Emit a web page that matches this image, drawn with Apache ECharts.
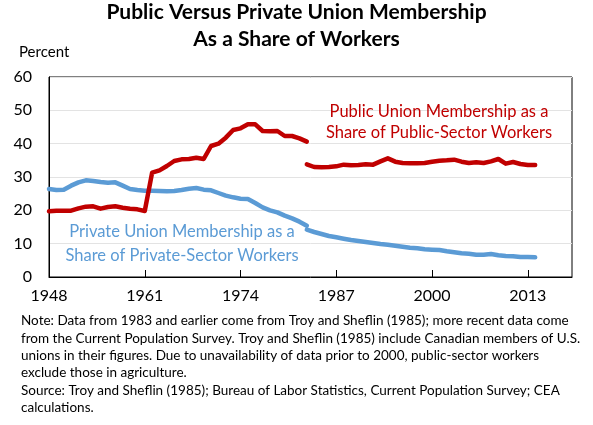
<!DOCTYPE html>
<html><head><meta charset="utf-8">
<script src="https://cdn.jsdelivr.net/npm/echarts@6/dist/echarts.min.js"></script>
<style>html,body{margin:0;padding:0;background:#fff}#c{width:593px;height:425px}</style>
</head><body><div id="c"></div>
<script>
// Axis categories (years) and tick labels
const firstYear = 1948, lastYear = 2019;
const years = [];
for (let y = firstYear; y <= lastYear; y++) years.push(String(y));
const tickLabels = ['1948', '1961', '1974', '1987', '2000', '2013'];
const yTicks = [0, 10, 20, 30, 40, 50, 60];

// Troy and Sheflin (1948-1983)
const troyYears = ['1948','1949','1950','1951','1952','1953','1954','1955','1956','1957','1958','1959','1960','1961','1962','1963','1964','1965','1966','1967','1968','1969','1970','1971','1972','1973','1974','1975','1976','1977','1978','1979','1980','1981','1982','1983'];
const publicTroy = [19.7,19.9,19.9,19.9,20.6,21.1,21.2,20.5,21.0,21.2,20.8,20.5,20.3,19.8,31.3,32.0,33.3,34.8,35.3,35.4,35.8,35.4,39.3,40.0,41.8,44.1,44.6,45.8,45.8,43.8,43.7,43.8,42.3,42.3,41.6,40.6];
const privateTroy = [26.4,26.1,26.2,27.4,28.4,29.0,28.8,28.5,28.3,28.4,27.4,26.4,26.1,25.9,25.9,25.8,25.7,25.8,26.1,26.5,26.7,26.2,26.0,25.2,24.4,23.9,23.5,23.4,22.2,20.9,20.0,19.4,18.4,17.6,16.6,15.4];

// Current Population Survey (1983-2014)
const cpsYears = ['1983','1984','1985','1986','1987','1988','1989','1990','1991','1992','1993','1994','1995','1996','1997','1998','1999','2000','2001','2002','2003','2004','2005','2006','2007','2008','2009','2010','2011','2012','2013','2014'];
const publicCPS = [33.8,33.0,32.9,33.0,33.2,33.7,33.5,33.6,33.8,33.7,34.7,35.6,34.6,34.2,34.1,34.1,34.2,34.6,34.9,35.0,35.2,34.6,34.2,34.4,34.2,34.7,35.4,34.0,34.5,33.9,33.6,33.6];
const privateCPS = [14.2,13.5,12.9,12.3,11.9,11.5,11.1,10.8,10.5,10.2,9.9,9.7,9.4,9.1,8.8,8.6,8.3,8.2,8.1,7.7,7.4,7.1,7.0,6.7,6.7,6.9,6.5,6.3,6.2,6.0,6.0,5.9];

const titleLines = ['Public Versus Private Union Membership', 'As a Share of Workers'];
const yAxisName = 'Percent';
const publicLabel = ['Public Union Membership as a', 'Share of Public-Sector Workers'];
const privateLabel = ['Private Union Membership as a', 'Share of Private-Sector Workers'];
const noteLines = [
  'Note: Data from 1983 and earlier come from Troy and Sheflin (1985); more recent data come',
  'from the Current Population Survey. Troy and Sheflin (1985) include Canadian members of U.S.',
  'unions in their figures. Due to unavailability of data prior to 2000, public-sector workers',
  'exclude those in agriculture.',
  'Source: Troy and Sheflin (1985); Bureau of Labor Statistics, Current Population Survey; CEA',
  'calculations.'
];

const RED = '#c00000', BLUE = '#5b9bd5';
const FONT = 'Lato, "Open Sans", sans-serif';
const pair = (xs, vs) => xs.map((x, i) => [x, vs[i]]);
const showTick = (idx, val) => tickLabels.indexOf(val) >= 0;

function lineSeries(name, xs, vs, color) {
  return { name, type: 'line', data: pair(xs, vs), symbol: 'none', silent: true, z: 3,
    lineStyle: { color, width: 4.5, cap: 'round', join: 'round' }, animation: false };
}

const graphics = [];
titleLines.forEach((t, i) => graphics.push({ type: 'text', left: 'center', top: 2 + i * 27, z: 100,
  style: { text: t, font: 'bold 21px ' + FONT, fill: '#000' } }));
graphics.push({ type: 'text', x: 19, y: 52, z: 100, style: { text: yAxisName, font: '15px ' + FONT, fill: '#000', verticalAlign: 'middle' } });
publicLabel.forEach((t, i) => graphics.push({ type: 'text', x: 439, y: 112 + i * 21, z: 100,
  style: { text: t, font: '16.5px ' + FONT, fill: RED, align: 'center', verticalAlign: 'middle',
    backgroundColor: 'rgba(255,255,255,0)' } }));
privateLabel.forEach((t, i) => graphics.push({ type: 'text', x: 182, y: 232 + i * 23.5, z: 100,
  style: { text: t, font: '16.5px ' + FONT, fill: BLUE, align: 'center', verticalAlign: 'middle' } }));
noteLines.forEach((t, i) => graphics.push({ type: 'text', x: 21, y: 321 + i * 17.3, z: 100,
  style: { text: t, font: '13.5px ' + FONT, fill: '#000', verticalAlign: 'middle' } }));

const chart = echarts.init(document.getElementById('c'), null, { renderer: 'canvas' });
chart.setOption({
  animation: false,
  backgroundColor: '#fff',
  grid: { left: 49, right: 21, top: 77, bottom: 148, show: true, borderColor: '#000', borderWidth: 1, containLabel: false, z: 0 },
  xAxis: {
    type: 'category', data: years, boundaryGap: false, z: 1,
    axisLine: { lineStyle: { color: '#000', width: 1 } },
    axisTick: { inside: true, length: 7, interval: showTick, lineStyle: { color: '#000' } },
    axisLabel: { interval: showTick, color: '#000', fontSize: 16, fontFamily: FONT, margin: 11 },
    splitLine: { show: false }
  },
  yAxis: {
    type: 'value', min: yTicks[0], max: yTicks[yTicks.length - 1], interval: 10, z: 1,
    axisLine: { show: true, lineStyle: { color: '#000', width: 1 } },
    axisTick: { show: false },
    axisLabel: { color: '#000', fontSize: 16, fontFamily: FONT, margin: 17 },
    splitLine: { lineStyle: { color: '#e3e3e3', width: 1 } }
  },
  series: [
    lineSeries('Private (Troy & Sheflin)', troyYears, privateTroy, BLUE),
    lineSeries('Private (CPS)', cpsYears, privateCPS, BLUE),
    lineSeries('Public (Troy & Sheflin)', troyYears, publicTroy, RED),
    lineSeries('Public (CPS)', cpsYears, publicCPS, RED)
  ],
  graphic: { elements: graphics }
});
</script></body></html>
